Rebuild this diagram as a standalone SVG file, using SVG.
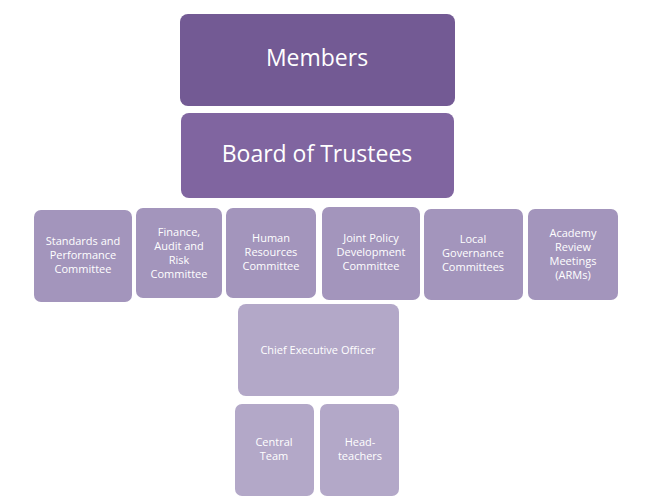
<svg xmlns="http://www.w3.org/2000/svg" width="649" height="503" viewBox="0 0 649 503">
<style>
text{font-family:"Open Sans","Liberation Sans",sans-serif;fill:#fff;text-anchor:middle}
.big{font-size:23px}
.s{font-size:11px}
.c{fill:#a395bc}
.d{fill:#b3a8c8}
</style>
<rect width="649" height="503" fill="#fff"/>
<g id="members"><rect x="180" y="14" width="275" height="92" rx="8" fill="#735a94"/><text class="big" x="317" y="66">Members</text></g>
<g id="board"><rect x="181" y="113" width="273" height="85" rx="8" fill="#8065a0"/><text class="big" x="317" y="162">Board of Trustees</text></g>
<g id="standards"><rect x="34" y="210" width="98" height="92" rx="7" class="c"/><text class="s" x="83" y="245">Standards and</text><text class="s" x="83" y="259">Performance</text><text class="s" x="83" y="273">Committee</text></g>
<g id="finance"><rect x="136" y="208" width="86" height="90" rx="7" class="c"/><text class="s" x="179" y="236">Finance,</text><text class="s" x="179" y="250">Audit and</text><text class="s" x="179" y="264">Risk</text><text class="s" x="179" y="278">Committee</text></g>
<g id="hr"><rect x="226" y="208" width="90" height="90" rx="7" class="c"/><text class="s" x="271" y="242">Human</text><text class="s" x="271" y="256">Resources</text><text class="s" x="271" y="270">Committee</text></g>
<g id="joint"><rect x="322" y="207" width="98" height="93" rx="7" class="c"/><text class="s" x="371" y="242">Joint Policy</text><text class="s" x="371" y="256">Development</text><text class="s" x="371" y="270">Committee</text></g>
<g id="local"><rect x="424" y="209" width="99" height="91" rx="7" class="c"/><text class="s" x="473" y="243">Local</text><text class="s" x="473" y="257">Governance</text><text class="s" x="473" y="271">Committees</text></g>
<g id="arms"><rect x="528" y="209" width="90" height="91" rx="7" class="c"/><text class="s" x="573" y="237">Academy</text><text class="s" x="573" y="251">Review</text><text class="s" x="573" y="265">Meetings</text><text class="s" x="573" y="279">(ARMs)</text></g>
<g id="ceo"><rect x="238" y="304" width="161" height="92" rx="8" class="d"/><text class="s" x="318" y="354">Chief Executive Officer</text></g>
<g id="central"><rect x="235" y="404" width="79" height="92" rx="7" class="d"/><text class="s" x="274" y="446">Central</text><text class="s" x="274" y="460">Team</text></g>
<g id="heads"><rect x="320" y="404" width="79" height="92" rx="7" class="d"/><text class="s" x="360" y="446">Head-</text><text class="s" x="360" y="460">teachers</text></g>
<g id="connectors"/>
</svg>
